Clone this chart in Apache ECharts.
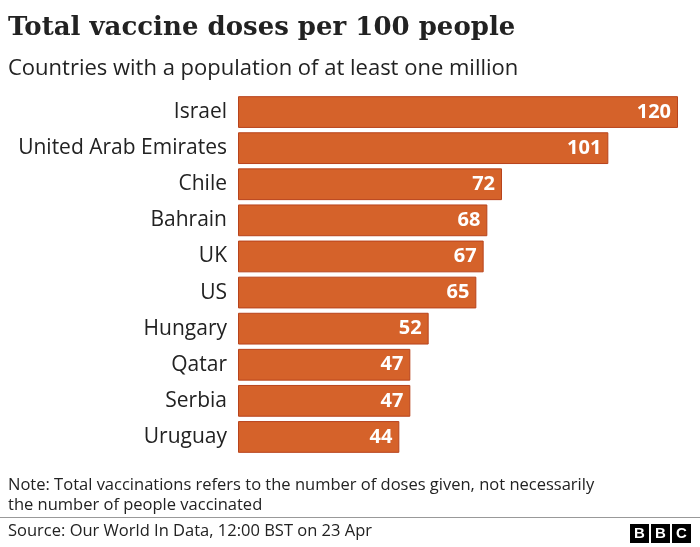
<!DOCTYPE html>
<html lang="en">
<head>
    <meta charset="UTF-8">
    <title>Vaccine doses</title>
    <style>
        html,body{width:100%;height:100%;margin:0;padding:0;background:#fff;}
    </style>
</head>
<body>
<div id="main" style="width:700px;height:547px;"></div>
<script src="https://cdn.jsdelivr.net/npm/echarts@6/dist/echarts.min.js"></script>
<script>
    var countries = ["Israel","United Arab Emirates","Chile","Bahrain","UK","US","Hungary","Qatar","Serbia","Uruguay"];
    var doses = [120,101,72,68,67,65,52,47,47,44];

    var font = "'Open Sans', 'Noto Sans', sans-serif";
    var myChart = echarts.init(document.getElementById('main'));

    // BBC blocks
    var bbc = [];
    ["B","B","C"].forEach(function (ch, i) {
        var x = 630 + i * 21;
        bbc.push({type:'rect', shape:{x:x, y:524, width:19, height:19}, style:{fill:'#000'}});
        bbc.push({type:'text', x:x + 9.5, y:533.5, style:{text:ch, fill:'#fff', font:'bold 15px Arial, sans-serif', align:'center', verticalAlign:'middle'}});
    });

    myChart.setOption({
        animation: false,
        grid: {left: 238, right: 22, top: 94, bottom: 92},
        xAxis: {type:'value', min:0, max:120, show:false},
        yAxis: {
            type:'category', data:countries, inverse:true,
            axisLine:{show:false}, axisTick:{show:false},
            axisLabel:{color:'#222', fontSize:21, fontFamily:font, margin:11}
        },
        series: [{
            type:'bar', data:doses, barWidth:'88%',
            itemStyle:{color:'#d5622a', borderColor:'#b8431c', borderWidth:1},
            label:{show:true, position:'insideRight', color:'#fff', fontWeight:'bold', fontSize:20, fontFamily:font, offset:[-2,0]}
        }],
        graphic: [
            {type:'text', left:8, top:15, style:{text:'Total vaccine doses per 100 people', fill:'#222', font:'bold 26px "DejaVu Serif", serif'}},
            {type:'text', left:8, top:58, style:{text:'Countries with a population of at least one million', fill:'#222', font:'22px ' + font}},
            {type:'text', left:8, top:475, style:{text:'Note: Total vaccinations refers to the number of doses given, not necessarily\nthe number of people vaccinated', fill:'#222', font:'16.5px ' + font, lineHeight:20}},
            {type:'rect', shape:{x:0, y:517, width:700, height:1}, style:{fill:'#999'}},
            {type:'text', left:8, top:523, style:{text:'Source: Our World In Data, 12:00 BST on 23 Apr', fill:'#222', font:'16.5px ' + font}}
        ].concat(bbc)
    });
</script>
</body>
</html>
